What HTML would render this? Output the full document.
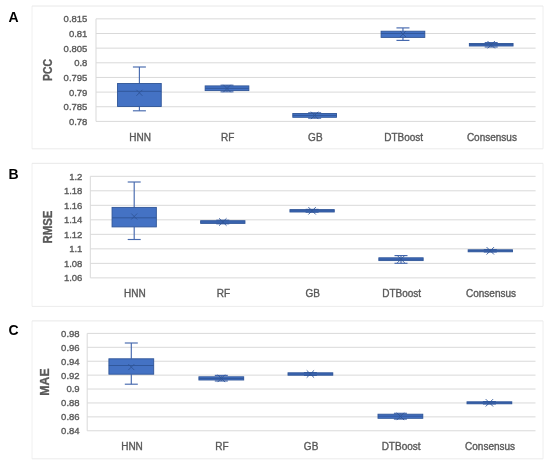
<!DOCTYPE html>
<html><head><meta charset="utf-8"><style>
html,body{margin:0;padding:0;background:#fff;}
body{width:550px;height:467px;overflow:hidden;}
svg{display:block;}
text{font-family:"Liberation Sans",Arial,sans-serif;}
.L{font-size:14px;font-weight:bold;fill:#000;}
.yl{font-size:9.5px;fill:#595959;stroke:#595959;stroke-width:0.35px;text-anchor:end;}
.xl{font-size:10px;fill:#595959;stroke:#595959;stroke-width:0.35px;text-anchor:middle;}
.t{font-size:12.5px;font-weight:bold;fill:#595959;stroke:#595959;stroke-width:0.3px;text-anchor:middle;}
.g{stroke:#D9D9D9;stroke-width:1;}
.w{stroke:#4669AE;stroke-width:1.15;}
.b{fill:#4472C4;stroke:#2F5597;stroke-width:0.9;}
.m{stroke:#2F5597;stroke-width:0.9;}
.x{stroke:#2F5597;stroke-width:0.9;fill:none;}
</style></head><body>
<svg width="550" height="467" viewBox="0 0 550 467">
<rect width="550" height="467" fill="#fff"/>
<line x1="32" x2="32" y1="6" y2="148.8" stroke="#F0F0F0"/>
<line x1="543" x2="543" y1="6" y2="148.8" stroke="#EEEEEE"/>
<line x1="32" x2="543" y1="6" y2="6" stroke="#E8E8E8"/>
<line x1="32" x2="543" y1="148.8" y2="148.8" stroke="#ECECEC"/>
<text x="8.4" y="21.5" class="L">A</text>
<line x1="96" x2="535.6" y1="18.85" y2="18.85" class="g"/>
<text x="87.4" y="22.25" class="yl">0.815</text>
<line x1="96" x2="535.6" y1="33.5" y2="33.5" class="g"/>
<text x="87.4" y="36.9" class="yl">0.81</text>
<line x1="96" x2="535.6" y1="48.15" y2="48.15" class="g"/>
<text x="87.4" y="51.55" class="yl">0.805</text>
<line x1="96" x2="535.6" y1="62.8" y2="62.8" class="g"/>
<text x="87.4" y="66.2" class="yl">0.8</text>
<line x1="96" x2="535.6" y1="77.45" y2="77.45" class="g"/>
<text x="87.4" y="80.85" class="yl">0.795</text>
<line x1="96" x2="535.6" y1="92.1" y2="92.1" class="g"/>
<text x="87.4" y="95.5" class="yl">0.79</text>
<line x1="96" x2="535.6" y1="106.75" y2="106.75" class="g"/>
<text x="87.4" y="110.15" class="yl">0.785</text>
<line x1="96" x2="535.6" y1="121.4" y2="121.4" class="g"/>
<text x="87.4" y="124.8" class="yl">0.78</text>
<line x1="96" x2="96" y1="18.85" y2="121.4" class="g"/>
<text transform="translate(47.5,70) rotate(-90)" x="0" y="4.5" class="t" textLength="22" lengthAdjust="spacingAndGlyphs">PCC</text>
<text x="140.1" y="141" class="xl">HNN</text>
<line x1="139.4" x2="139.4" y1="67" y2="83.5" class="w"/>
<line x1="139.4" x2="139.4" y1="106.5" y2="110.8" class="w"/>
<line x1="132.9" x2="145.9" y1="67" y2="67" class="w"/>
<line x1="132.9" x2="145.9" y1="110.8" y2="110.8" class="w"/>
<rect x="117.55" y="83.5" width="43.7" height="23" class="b"/>
<line x1="117.55" x2="161.25" y1="91.3" y2="91.3" class="m"/>
<path d="M136.4 89.8L142.4 95.8M136.4 95.8L142.4 89.8" class="x"/>
<text x="227.7" y="141" class="xl">RF</text>
<line x1="227" x2="227" y1="85.2" y2="85.9" class="w"/>
<line x1="227" x2="227" y1="90.6" y2="91.8" class="w"/>
<line x1="220.5" x2="233.5" y1="85.2" y2="85.2" class="w"/>
<line x1="220.5" x2="233.5" y1="91.8" y2="91.8" class="w"/>
<rect x="205.15" y="85.9" width="43.7" height="4.7" class="b"/>
<line x1="205.15" x2="248.85" y1="88.3" y2="88.3" class="m"/>
<path d="M223.3 84.8L230.7 92.2M223.3 92.2L230.7 84.8" class="x"/>
<text x="315.35" y="141" class="xl">GB</text>
<line x1="314.65" x2="314.65" y1="112.8" y2="113.5" class="w"/>
<line x1="314.65" x2="314.65" y1="117.3" y2="118.2" class="w"/>
<line x1="308.15" x2="321.15" y1="112.8" y2="112.8" class="w"/>
<line x1="308.15" x2="321.15" y1="118.2" y2="118.2" class="w"/>
<rect x="292.8" y="113.5" width="43.7" height="3.8" class="b"/>
<line x1="292.8" x2="336.5" y1="115.4" y2="115.4" class="m"/>
<path d="M310.95 111.7L318.35 119.1M310.95 119.1L318.35 111.7" class="x"/>
<text x="403.65" y="141" class="xl">DTBoost</text>
<line x1="402.95" x2="402.95" y1="27.9" y2="31.2" class="w"/>
<line x1="402.95" x2="402.95" y1="37.4" y2="40.4" class="w"/>
<line x1="396.45" x2="409.45" y1="27.9" y2="27.9" class="w"/>
<line x1="396.45" x2="409.45" y1="40.4" y2="40.4" class="w"/>
<rect x="381.1" y="31.2" width="43.7" height="6.2" class="b"/>
<line x1="381.1" x2="424.8" y1="33.5" y2="33.5" class="m"/>
<path d="M399.95 31L405.95 37M399.95 37L405.95 31" class="x"/>
<text x="491.9" y="141" class="xl">Consensus</text>
<line x1="491.2" x2="491.2" y1="42.6" y2="43.5" class="w"/>
<line x1="491.2" x2="491.2" y1="46" y2="47" class="w"/>
<line x1="484.7" x2="497.7" y1="42.6" y2="42.6" class="w"/>
<line x1="484.7" x2="497.7" y1="47" y2="47" class="w"/>
<rect x="469.35" y="43.5" width="43.7" height="2.5" class="b"/>
<line x1="469.35" x2="513.05" y1="44.7" y2="44.7" class="m"/>
<path d="M487.5 41L494.9 48.4M487.5 48.4L494.9 41" class="x"/>
<line x1="32" x2="32" y1="163.3" y2="306.4" stroke="#F0F0F0"/>
<line x1="543" x2="543" y1="163.3" y2="306.4" stroke="#EEEEEE"/>
<line x1="32" x2="543" y1="163.3" y2="163.3" stroke="#E8E8E8"/>
<line x1="32" x2="543" y1="306.4" y2="306.4" stroke="#ECECEC"/>
<text x="8.6" y="178.5" class="L">B</text>
<line x1="90.3" x2="535.6" y1="176.3" y2="176.3" class="g"/>
<text x="82.4" y="179.7" class="yl">1.2</text>
<line x1="90.3" x2="535.6" y1="190.81" y2="190.81" class="g"/>
<text x="82.4" y="194.21" class="yl">1.18</text>
<line x1="90.3" x2="535.6" y1="205.32" y2="205.32" class="g"/>
<text x="82.4" y="208.72" class="yl">1.16</text>
<line x1="90.3" x2="535.6" y1="219.83" y2="219.83" class="g"/>
<text x="82.4" y="223.23" class="yl">1.14</text>
<line x1="90.3" x2="535.6" y1="234.34" y2="234.34" class="g"/>
<text x="82.4" y="237.74" class="yl">1.12</text>
<line x1="90.3" x2="535.6" y1="248.85" y2="248.85" class="g"/>
<text x="82.4" y="252.25" class="yl">1.1</text>
<line x1="90.3" x2="535.6" y1="263.36" y2="263.36" class="g"/>
<text x="82.4" y="266.76" class="yl">1.08</text>
<line x1="90.3" x2="535.6" y1="277.87" y2="277.87" class="g"/>
<text x="82.4" y="281.27" class="yl">1.06</text>
<line x1="90.3" x2="90.3" y1="176.3" y2="277.87" class="g"/>
<text transform="translate(47.7,227.1) rotate(-90)" x="0" y="4.5" class="t" textLength="33" lengthAdjust="spacingAndGlyphs">RMSE</text>
<text x="134.9" y="296.6" class="xl">HNN</text>
<line x1="134.2" x2="134.2" y1="182" y2="207.4" class="w"/>
<line x1="134.2" x2="134.2" y1="226.9" y2="239.5" class="w"/>
<line x1="127.7" x2="140.7" y1="182" y2="182" class="w"/>
<line x1="127.7" x2="140.7" y1="239.5" y2="239.5" class="w"/>
<rect x="112.05" y="207.4" width="44.3" height="19.5" class="b"/>
<line x1="112.05" x2="156.35" y1="217.8" y2="217.8" class="m"/>
<path d="M131.2 213.5L137.2 219.5M131.2 219.5L137.2 213.5" class="x"/>
<text x="223.5" y="296.6" class="xl">RF</text>
<line x1="222.8" x2="222.8" y1="220.2" y2="220.7" class="w"/>
<line x1="222.8" x2="222.8" y1="223.4" y2="223.8" class="w"/>
<line x1="216.3" x2="229.3" y1="220.2" y2="220.2" class="w"/>
<line x1="216.3" x2="229.3" y1="223.8" y2="223.8" class="w"/>
<rect x="200.65" y="220.7" width="44.3" height="2.7" class="b"/>
<line x1="200.65" x2="244.95" y1="222" y2="222" class="m"/>
<path d="M219.1 218.3L226.5 225.7M219.1 225.7L226.5 218.3" class="x"/>
<text x="312.8" y="296.6" class="xl">GB</text>
<line x1="312.1" x2="312.1" y1="209.4" y2="209.6" class="w"/>
<line x1="312.1" x2="312.1" y1="212" y2="212.2" class="w"/>
<line x1="305.6" x2="318.6" y1="209.4" y2="209.4" class="w"/>
<line x1="305.6" x2="318.6" y1="212.2" y2="212.2" class="w"/>
<rect x="289.95" y="209.6" width="44.3" height="2.4" class="b"/>
<line x1="289.95" x2="334.25" y1="210.8" y2="210.8" class="m"/>
<path d="M308.4 207.1L315.8 214.5M308.4 214.5L315.8 207.1" class="x"/>
<text x="401.7" y="296.6" class="xl">DTBoost</text>
<line x1="401" x2="401" y1="255.6" y2="257.8" class="w"/>
<line x1="401" x2="401" y1="260.6" y2="263.3" class="w"/>
<line x1="394.5" x2="407.5" y1="255.6" y2="255.6" class="w"/>
<line x1="394.5" x2="407.5" y1="263.3" y2="263.3" class="w"/>
<rect x="378.85" y="257.8" width="44.3" height="2.8" class="b"/>
<line x1="378.85" x2="423.15" y1="259.2" y2="259.2" class="m"/>
<path d="M397.3 255.5L404.7 262.9M397.3 262.9L404.7 255.5" class="x"/>
<text x="491" y="296.6" class="xl">Consensus</text>
<line x1="490.3" x2="490.3" y1="249.6" y2="249.8" class="w"/>
<line x1="490.3" x2="490.3" y1="251.8" y2="252" class="w"/>
<line x1="483.8" x2="496.8" y1="249.6" y2="249.6" class="w"/>
<line x1="483.8" x2="496.8" y1="252" y2="252" class="w"/>
<rect x="468.15" y="249.8" width="44.3" height="2" class="b"/>
<line x1="468.15" x2="512.45" y1="250.8" y2="250.8" class="m"/>
<path d="M486.6 247.1L494 254.5M486.6 254.5L494 247.1" class="x"/>
<line x1="32" x2="32" y1="320.9" y2="458.8" stroke="#F0F0F0"/>
<line x1="543" x2="543" y1="320.9" y2="458.8" stroke="#EEEEEE"/>
<line x1="32" x2="543" y1="320.9" y2="320.9" stroke="#E8E8E8"/>
<line x1="32" x2="543" y1="458.8" y2="458.8" stroke="#ECECEC"/>
<text x="8.6" y="335.3" class="L">C</text>
<line x1="87.2" x2="535.5" y1="333.4" y2="333.4" class="g"/>
<text x="79.6" y="336.8" class="yl">0.98</text>
<line x1="87.2" x2="535.5" y1="347.31" y2="347.31" class="g"/>
<text x="79.6" y="350.71" class="yl">0.96</text>
<line x1="87.2" x2="535.5" y1="361.22" y2="361.22" class="g"/>
<text x="79.6" y="364.62" class="yl">0.94</text>
<line x1="87.2" x2="535.5" y1="375.13" y2="375.13" class="g"/>
<text x="79.6" y="378.53" class="yl">0.92</text>
<line x1="87.2" x2="535.5" y1="389.04" y2="389.04" class="g"/>
<text x="79.6" y="392.44" class="yl">0.9</text>
<line x1="87.2" x2="535.5" y1="402.95" y2="402.95" class="g"/>
<text x="79.6" y="406.35" class="yl">0.88</text>
<line x1="87.2" x2="535.5" y1="416.86" y2="416.86" class="g"/>
<text x="79.6" y="420.26" class="yl">0.86</text>
<line x1="87.2" x2="535.5" y1="430.77" y2="430.77" class="g"/>
<text x="79.6" y="434.17" class="yl">0.84</text>
<line x1="87.2" x2="87.2" y1="333.4" y2="430.77" class="g"/>
<text transform="translate(44.6,382) rotate(-90)" x="0" y="4.5" class="t" textLength="27.3" lengthAdjust="spacingAndGlyphs">MAE</text>
<text x="132" y="449.5" class="xl">HNN</text>
<line x1="131.3" x2="131.3" y1="343" y2="358.8" class="w"/>
<line x1="131.3" x2="131.3" y1="374.2" y2="384.2" class="w"/>
<line x1="124.8" x2="137.8" y1="343" y2="343" class="w"/>
<line x1="124.8" x2="137.8" y1="384.2" y2="384.2" class="w"/>
<rect x="108.9" y="358.8" width="44.8" height="15.4" class="b"/>
<line x1="108.9" x2="153.7" y1="365.5" y2="365.5" class="m"/>
<path d="M128.3 364.1L134.3 370.1M128.3 370.1L134.3 364.1" class="x"/>
<text x="222" y="449.5" class="xl">RF</text>
<line x1="221.3" x2="221.3" y1="375.4" y2="376.8" class="w"/>
<line x1="221.3" x2="221.3" y1="380" y2="381" class="w"/>
<line x1="214.8" x2="227.8" y1="375.4" y2="375.4" class="w"/>
<line x1="214.8" x2="227.8" y1="381" y2="381" class="w"/>
<rect x="198.9" y="376.8" width="44.8" height="3.2" class="b"/>
<line x1="198.9" x2="243.7" y1="378.4" y2="378.4" class="m"/>
<path d="M217.6 374.7L225 382.1M217.6 382.1L225 374.7" class="x"/>
<text x="311.1" y="449.5" class="xl">GB</text>
<line x1="310.4" x2="310.4" y1="372.6" y2="372.8" class="w"/>
<line x1="310.4" x2="310.4" y1="375.2" y2="375.4" class="w"/>
<line x1="303.9" x2="316.9" y1="372.6" y2="372.6" class="w"/>
<line x1="303.9" x2="316.9" y1="375.4" y2="375.4" class="w"/>
<rect x="288" y="372.8" width="44.8" height="2.4" class="b"/>
<line x1="288" x2="332.8" y1="374" y2="374" class="m"/>
<path d="M306.7 370.3L314.1 377.7M306.7 377.7L314.1 370.3" class="x"/>
<text x="401.1" y="449.5" class="xl">DTBoost</text>
<line x1="400.4" x2="400.4" y1="413.3" y2="414.2" class="w"/>
<line x1="400.4" x2="400.4" y1="418.3" y2="419.1" class="w"/>
<line x1="393.9" x2="406.9" y1="413.3" y2="413.3" class="w"/>
<line x1="393.9" x2="406.9" y1="419.1" y2="419.1" class="w"/>
<rect x="378" y="414.2" width="44.8" height="4.1" class="b"/>
<line x1="378" x2="422.8" y1="416.2" y2="416.2" class="m"/>
<path d="M396.7 412.7L404.1 420.1M396.7 420.1L404.1 412.7" class="x"/>
<text x="490.1" y="449.5" class="xl">Consensus</text>
<line x1="489.4" x2="489.4" y1="401.6" y2="401.8" class="w"/>
<line x1="489.4" x2="489.4" y1="403.8" y2="404" class="w"/>
<line x1="482.9" x2="495.9" y1="401.6" y2="401.6" class="w"/>
<line x1="482.9" x2="495.9" y1="404" y2="404" class="w"/>
<rect x="467" y="401.8" width="44.8" height="2" class="b"/>
<line x1="467" x2="511.8" y1="402.8" y2="402.8" class="m"/>
<path d="M485.7 399.1L493.1 406.5M485.7 406.5L493.1 399.1" class="x"/>
</svg>
</body></html>
